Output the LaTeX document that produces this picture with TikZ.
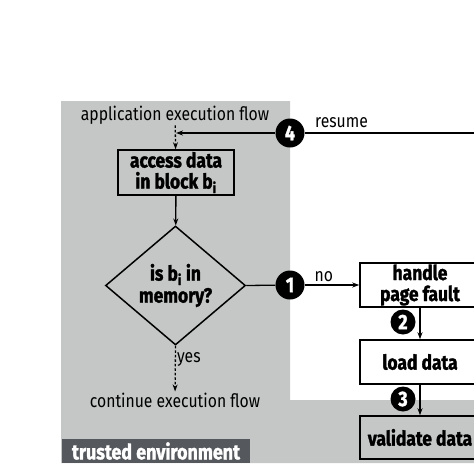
\documentclass[tikz,border=0pt]{standalone}
\usepackage{fontspec}
\setmainfont[FakeStretch=0.85,BoldFeatures={FakeBold=1.5}]{Fira Sans}
\usetikzlibrary{arrows.meta,shapes.geometric}
\definecolor{bggray}{RGB}{196,199,198}
\definecolor{envgray}{RGB}{85,88,92}
\tikzset{
  arr/.style={line width=1.3pt,-{Stealth[length=7pt,width=5pt]}},
  dasharr/.style={line width=1.3pt,dash pattern=on 2.5pt off 2pt,-{Stealth[length=7pt,width=5pt]}},
  plain/.style={line width=1.3pt},
  box/.style={draw,line width=1.5pt,align=center,inner sep=0pt,font=\fontsize{20.5}{21}\selectfont\bfseries},
  num/.style={circle,fill=black,text=white,inner sep=0pt,font=\fontsize{21}{21}\selectfont\bfseries},
  lbl/.style={inner sep=1pt,font=\fontsize{18.5}{20}\selectfont},
}
\begin{document}
\begin{tikzpicture}[x=1pt,y=-1pt]
\useasboundingbox (0,0) rectangle (474,474);
\clip (0,0) rectangle (474,474);
\fill[bggray] (61,101) -- (290,101) -- (290,400) -- (480,400) -- (480,463) -- (61,463) -- cycle;
\node[fill=envgray,text=white,minimum width=188pt,minimum height=24pt,inner sep=0pt,font=\fontsize{21}{21}\selectfont\bfseries] (env) at (156,451) {trusted environment};
\node[lbl] (app) at (175,115) {application execution flow};
\node[box,minimum width=116pt,minimum height=45pt] (access) at (176,172.5) {access data\\in block b\textsubscript{i}};
\node[diamond,draw,line width=1.5pt,minimum width=140pt,minimum height=119pt,inner sep=0pt,align=center,font=\fontsize{20.5}{22}\selectfont\bfseries] (mem) at (175.5,285.5) {is b\textsubscript{i} in\\memory?};
\node[lbl] (cont) at (175,400) {continue execution flow};
\node[num,minimum size=29pt] (n1) at (290,285) {1};
\node[num,minimum size=29pt] (n4) at (290,133) {4};
\node[num,minimum size=25pt] (n2) at (403,322) {2};
\node[num,minimum size=25pt] (n3) at (403,399) {3};
\node[box,fill=white,minimum width=120pt,minimum height=44pt] (hpf) at (420,285) {handle\\page fault};
\node[box,fill=white,minimum width=120pt,minimum height=44pt] (load) at (420,362) {load data};
\node[box,fill=bggray,minimum width=120pt,minimum height=43pt] (val) at (420,437.5) {validate data};
\coordinate (join) at (176,133);
\coordinate (resend) at (480,133);
\draw[dasharr] (app) -- (access);
\draw[arr] (access) -- (mem);
\draw[dasharr] (mem.south) -- node[lbl,right,pos=0.3] {yes} (cont);
\draw[plain] (mem.east) -- (n1);
\draw[arr] (n1) -- node[lbl,above,pos=0.35,yshift=2pt] {no} (hpf.west);
\draw[arr] (hpf.south) -- (load.north);
\draw[arr] (load.south) -- (val.north);
\draw[plain] (resend) -- node[lbl,above,pos=0.79,yshift=4pt] {resume} (n4);
\draw[arr] (n4) -- (join);
\end{tikzpicture}
\end{document}
